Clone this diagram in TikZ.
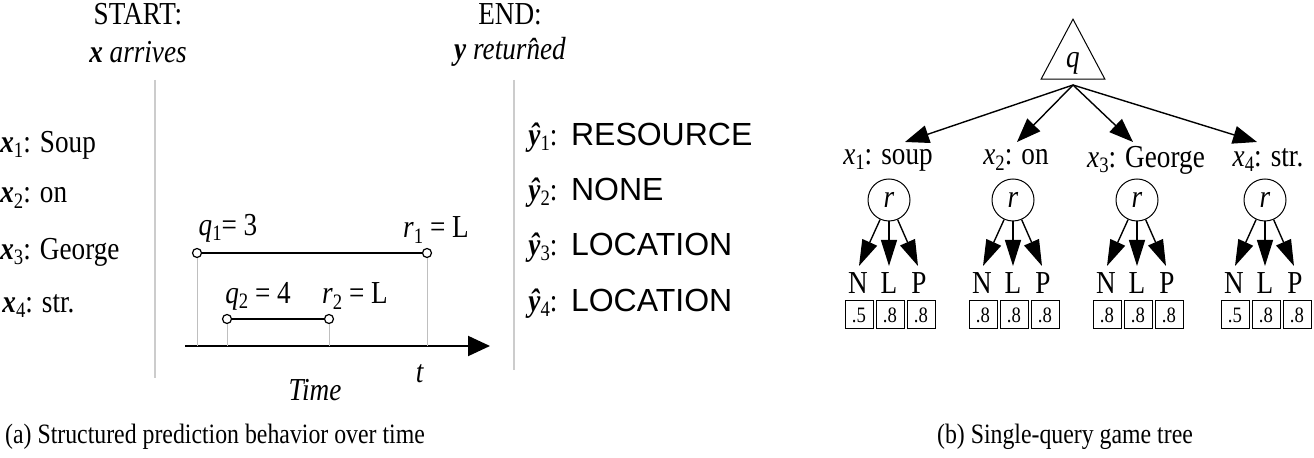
\documentclass[tikz,border=0pt]{standalone}
\usepackage{fontspec}
\setmainfont{Liberation Serif}[FakeStretch=0.85]
\setsansfont{Liberation Sans}
\usetikzlibrary{arrows.meta,shapes.geometric}
\newcommand{\bx}{\textbf{\textit{x}}}
\newcommand{\byh}{\textbf{\textit{\^y}}}
\newcommand{\sub}[1]{\raisebox{-0.35ex}{\fontsize{11}{12}\selectfont #1}}
\begin{document}
\begin{tikzpicture}[x=0.5pt,y=-0.5pt,
  txt/.style={inner sep=0pt,font=\fontsize{16}{18}\selectfont},
  lbl/.style={txt,anchor=west},
  gray line/.style={draw=black!20,line width=1.2pt},
  thin gray/.style={draw=black!25,line width=0.3pt},
  seg/.style={line width=1.4pt},
  dot/.style={circle,draw,fill=white,inner sep=0pt,minimum size=4.5pt,line width=0.6pt},
  big/.style={-{Triangle[length=12pt,width=9pt]},line width=0.7pt},
  med/.style={-{Triangle[length=13pt,width=8pt]},line width=0.7pt},
  rnode/.style={circle,draw,minimum size=21pt,inner sep=0pt,font=\fontsize{16}{18}\selectfont\itshape,line width=0.5pt},
  val/.style={draw,minimum width=14pt,minimum height=14pt,inner sep=0pt,font=\fontsize{11}{12}\selectfont,line width=0.5pt},
  captxt/.style={inner sep=0pt,font=\fontsize{14}{16}\selectfont}]
\useasboundingbox (0,0) rectangle (1314,458);
% left panel
\node[txt] (start) at (138,14) {START:};
\node[txt] (xarr) at (138,52) {\bx\ \textit{arrives}};
\node[txt] (endt) at (510,14) {END:};
\node[txt] (yret) at (510,52) {\textbf{\textit{y}} \textit{retur\^{n}ed}};
\draw[gray line] (155,80) -- (155,378);
\draw[gray line] (514,80) -- (514,370);
\node[lbl] (x1) at (0,145) {\bx\sub{1}: Soup};
\node[lbl] (x2) at (0,198) {\bx\sub{2}: on};
\node[lbl] (x3) at (0,252) {\bx\sub{3}: George};
\node[lbl] (x4) at (2,306) {\bx\sub{4}: str.};
\node[lbl] (y1) at (528,138) {\byh\sub{1}:\ \ \textsf{RESOURCE}};
\node[lbl] (y2) at (528,193) {\byh\sub{2}:\ \ \textsf{NONE}};
\node[lbl] (y3) at (528,248) {\byh\sub{3}:\ \ \textsf{LOCATION}};
\node[lbl] (y4) at (528,304) {\byh\sub{4}:\ \ \textsf{LOCATION}};
\coordinate (a0) at (185,346);
\coordinate (a1) at (490,346);
\draw[-{Triangle[length=11pt,width=10pt]},line width=1pt] (a0) -- (a1);
\node[dot] (q1) at (197,253) {};
\node[dot] (r1) at (427,253) {};
\node[dot] (q2) at (227,319) {};
\node[dot] (r2) at (329,319) {};
\draw[seg] (q1) -- (r1);
\draw[seg] (q2) -- (r2);
\draw[thin gray] (q1) -- (q1|-a0);
\draw[thin gray] (r1) -- (r1|-a0);
\draw[thin gray] (q2) -- (q2|-a0);
\draw[thin gray] (r2) -- (r2|-a0);
\node[txt] (lq1) at (228,228) {\textit{q}\sub{1}= 3};
\node[txt] (lr1) at (436,230) {\textit{r}\sub{1} = L};
\node[txt] (lq2) at (258,296) {\textit{q}\sub{2} = 4};
\node[txt] (lr2) at (355,296) {\textit{r}\sub{2} = L};
\node[txt] (t) at (420,374) {\textit{t}};
\node[txt] (time) at (315,390) {\textit{Time}};
\node[captxt] (capa) at (215,437) {(a) Structured prediction behavior over time};
% right panel
\node[draw,isosceles triangle,isosceles triangle apex angle=56,shape border rotate=90,minimum height=30pt,inner sep=0pt,line width=0.5pt] (q) at (1073,60) {};
\node[txt,font=\fontsize{16}{18}\selectfont\itshape] (ql) at (1073,63) {q};
\coordinate (qb) at (1073,85);
\foreach \i/\cx/\lx/\w/\va/\vb/\vc/\ex in {1/889/888/soup/.5/.8/.8/905, 2/1013/1016/on/.8/.8/.8/1017, 3/1137/1146/George/.8/.8/.8/1133, 4/1265/1268/str./.5/.8/.8/1257}{
  \node[txt] (w\i) at (\lx,160) {\textit{x}\sub{\i}: \w};
  \draw[big] (qb) -- (\ex,142);
  \node[rnode] (r\i) at (\cx,200) {r};
  \node[txt] (N\i) at (\cx-31,283) {N};
  \node[txt] (L\i) at (\cx,283) {L};
  \node[txt] (P\i) at (\cx+30,283) {P};
  \draw[med] (r\i) -- (\cx-30,266);
  \draw[med] (r\i.south) -- (\cx,266);
  \draw[med] (r\i) -- (\cx+29,266);
  \node[val] (vN\i) at (\cx-30,315) {\va};
  \node[val] (vL\i) at (\cx+1,315) {\vb};
  \node[val] (vP\i) at (\cx+32,315) {\vc};
}
\node[captxt] (capb) at (1065,437) {(b) Single-query game tree};
\end{tikzpicture}
\end{document}
